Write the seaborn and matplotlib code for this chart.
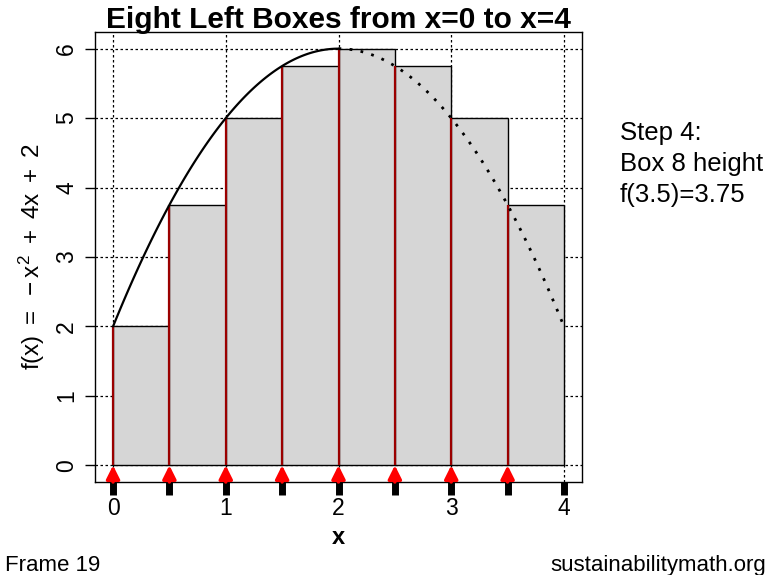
import numpy as np
import pandas as pd
import matplotlib
matplotlib.use("Agg")
import matplotlib.pyplot as plt
import seaborn as sns

# Chart values
box_left = [0, 0.5, 1, 1.5, 2, 2.5, 3, 3.5]
box_height = [2, 3.75, 5, 5.75, 6, 5.75, 5, 3.75]
box_width = 0.5
tick_pos = [0, 0.5, 1, 1.5, 2, 2.5, 3, 3.5, 4]
tick_lab = ["0", "", "1", "", "2", "", "3", "", "4"]
y_ticks = [0, 1, 2, 3, 4, 5, 6]
step_text = "Step 4:\nBox 8 height\nf(3.5)=3.75"

# the function drawn on the chart, f(x) = -x^2 + 4x + 2
xs = np.linspace(0, 4, 201)
curve = pd.DataFrame({"x": xs, "y": -xs**2 + 4 * xs + 2})
solid_part = curve[curve["x"] <= 2]
dotted_part = curve[curve["x"] >= 2]

sns.set_theme(style="white")
plt.rcParams["font.family"] = ["Liberation Sans", "DejaVu Sans"]
plt.rcParams["mathtext.fontset"] = "custom"
plt.rcParams["mathtext.rm"] = "Liberation Sans"
plt.rcParams["mathtext.it"] = "Liberation Sans"
plt.rcParams["text.color"] = "black"
plt.rcParams["axes.labelcolor"] = "black"
plt.rcParams["xtick.color"] = "black"
plt.rcParams["ytick.color"] = "black"

fig = plt.figure(figsize=(7.68, 5.75), dpi=100)
ax = fig.add_axes([95 / 768, 1 - 482 / 575, 487 / 768, 450 / 575])

# grid under everything
for gx in [0, 1, 2, 3, 4]:
    ax.axvline(gx, color="black", lw=0.9, ls=(0, (2, 2)), zorder=0)
for gy in y_ticks:
    ax.axhline(gy, color="black", lw=0.9, ls=(0, (2, 2)), zorder=0)

# boxes
ax.bar(box_left, box_height, width=box_width, align="edge",
       color="#D6D6D6", edgecolor="black", linewidth=1, zorder=2)
ax.vlines(box_left, 0, box_height, color="#9B0000", lw=1.6, zorder=3)

# the curve
sns.lineplot(data=solid_part, x="x", y="y", color="black", lw=1.6, ax=ax, zorder=4)
sns.lineplot(data=dotted_part, x="x", y="y", color="black", lw=2.0,
             ls=(0, (1, 3)), ax=ax, zorder=4)

# red arrows pointing up to each left endpoint
for bx in box_left:
    ax.annotate("", xy=(bx, 0), xytext=(bx, -0.24),
                arrowprops=dict(arrowstyle="-|>", color="red", lw=2.5,
                                mutation_scale=20, shrinkA=0, shrinkB=0),
                annotation_clip=False, zorder=5)

ax.set_xlim(-0.16, 4.16)
ax.set_ylim(-0.24, 6.24)
ax.set_xticks(tick_pos)
ax.set_xticklabels(tick_lab, fontsize=16.5)
ax.set_yticks(y_ticks)
ax.set_yticklabels([str(v) for v in y_ticks], fontsize=16.5, rotation=90, va="center")
ax.tick_params(axis="x", length=9, width=5, pad=2, bottom=True)
ax.tick_params(axis="y", length=7, width=1, pad=5, left=True)
for s in ax.spines.values():
    s.set_color("black")
    s.set_linewidth(1)

ax.set_xlabel("x", fontsize=17, fontweight="bold", labelpad=4)
ax.set_ylabel(r"$\mathrm{f(x)\ =\ -x^2\ +\ 4x\ +\ 2}$", fontsize=17.5, labelpad=6)
ax.set_title("Eight Left Boxes from x=0 to x=4", fontsize=21.5, fontweight="bold", pad=3)

fig.text(620 / 768, 1 - 121 / 575, step_text, fontsize=18.5, va="top", ha="left",
         linespacing=1.38)
fig.text(5 / 768, 4 / 575, "Frame 19", fontsize=16, va="baseline", ha="left")
fig.text(766 / 768, 4 / 575, "sustainabilitymath.org", fontsize=16, va="baseline", ha="right")

fig.savefig("out.png", dpi=100)
